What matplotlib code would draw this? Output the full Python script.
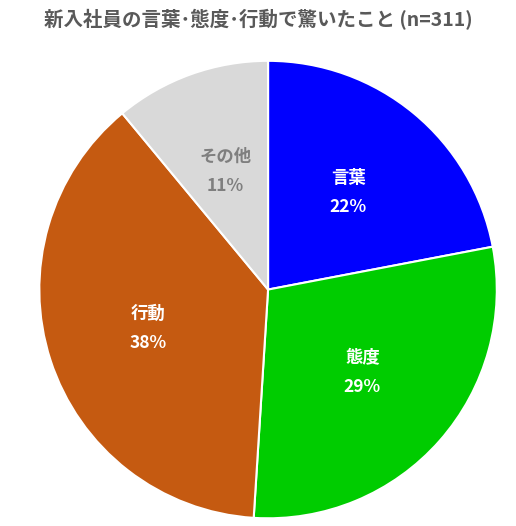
import matplotlib
matplotlib.use("Agg")
import matplotlib.pyplot as plt

plt.rcParams['font.family'] = ['Noto Sans CJK JP', 'DejaVu Sans']

categories = ["言葉", "態度", "行動", "その他"]
values = [22, 29, 38, 11]
colors = ["#0000FF", "#00CC00", "#C55A11", "#D9D9D9"]
text_colors = ["white", "white", "white", "#7F7F7F"]

fig = plt.figure(figsize=(5.16, 5.26), dpi=100)
ax = fig.add_axes([0.074, 0.012, 0.891, 0.875])
labels = [f"{c}\n{v}%" for c, v in zip(categories, values)]
wedges, texts = ax.pie(values, colors=colors, startangle=90, counterclock=False,
                       labels=labels, labeldistance=0.55,
                       wedgeprops=dict(edgecolor="white", linewidth=1.5),
                       textprops=dict(fontsize=12.5, fontweight="bold", linespacing=1.8))
for t, c in zip(texts, text_colors):
    t.set_color(c)
    t.set_horizontalalignment("center")
ax.set_xlim(-1.005, 1.005)
ax.set_ylim(-1.005, 1.005)
ax.set_aspect("equal")
fig.text(0.5, 0.962, "新入社員の言葉･態度･行動で驚いたこと (n=311)", ha="center", va="center",
         fontsize=14, fontweight="bold", color="#595959")
fig.savefig("out.png")
